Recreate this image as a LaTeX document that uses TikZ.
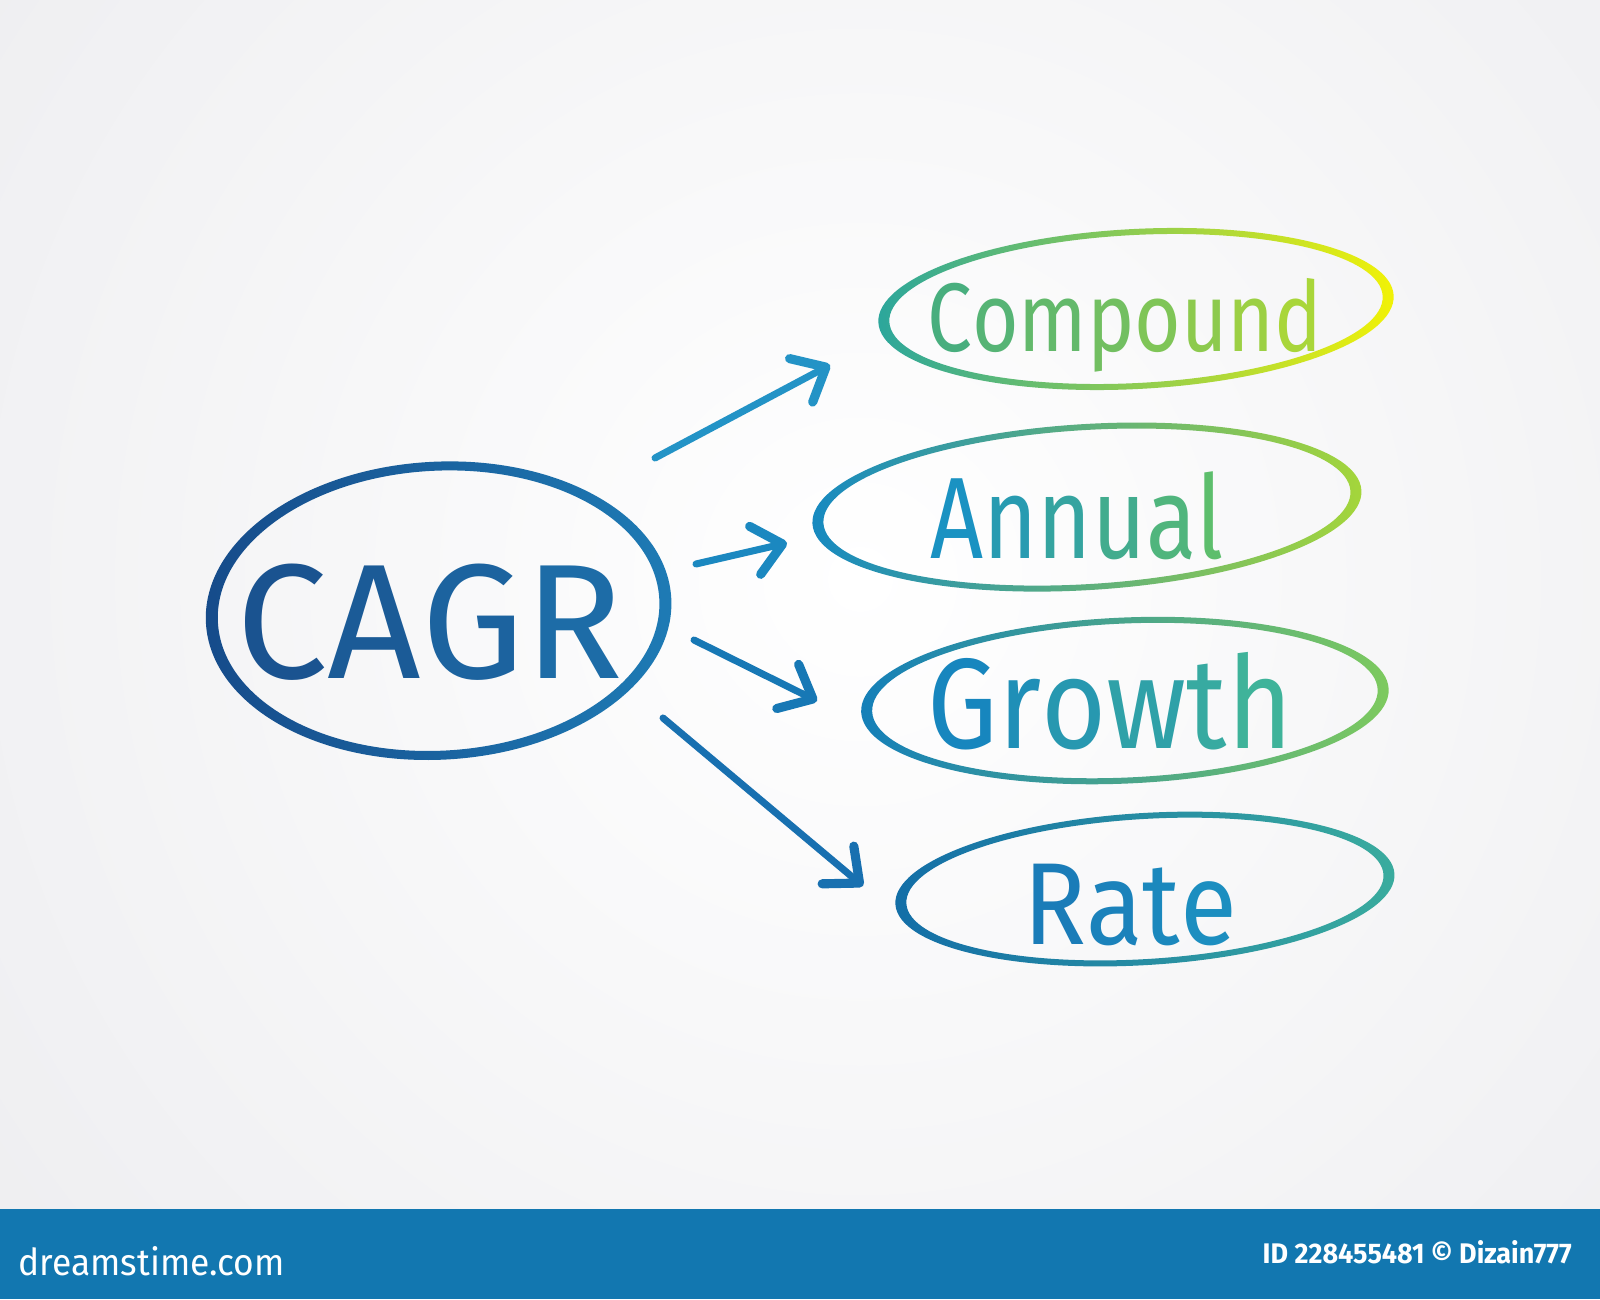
\documentclass[tikz,border=0pt]{standalone}
\usepackage{fontspec}
\setmainfont{Fira Sans}
\usepackage{graphicx}
\usetikzlibrary{arrows.meta}
\definecolor{bgedge}{HTML}{E4E4E8}
\definecolor{barblue}{HTML}{1277B0}
\definecolor{arrA}{HTML}{2393C6}
\definecolor{arrB}{HTML}{1B88C0}
\definecolor{arrC}{HTML}{1778B5}
\definecolor{arrD}{HTML}{1870B0}
% text gradients
\definecolor{cgA}{HTML}{1A5390}\definecolor{cgB}{HTML}{1D6CA7}
\definecolor{coA}{HTML}{48AE7E}\definecolor{coB}{HTML}{A9D63A}
\definecolor{anA}{HTML}{1A92C2}\definecolor{anB}{HTML}{5DBE6C}
\definecolor{grA}{HTML}{1786BE}\definecolor{grB}{HTML}{3FB39A}
\definecolor{raA}{HTML}{1A7CB8}\definecolor{raB}{HTML}{1C8EC0}
% ring colours
\definecolor{rcgL}{HTML}{164B8A}\definecolor{rcgR}{HTML}{1E7BB5}
\definecolor{rcoL}{HTML}{2BA69C}\definecolor{rcoM}{HTML}{8ACB4C}\definecolor{rcoR}{HTML}{F2F206}
\definecolor{ranL}{HTML}{1689C1}\definecolor{ranM}{HTML}{3EAF9E}\definecolor{ranR}{HTML}{A5D63A}
\definecolor{rgrL}{HTML}{147FB9}\definecolor{rgrM}{HTML}{26A0B0}\definecolor{rgrR}{HTML}{7ECA5E}
\definecolor{rraL}{HTML}{136EA7}\definecolor{rraM}{HTML}{1984BC}\definecolor{rraR}{HTML}{3AAC9E}
\tikzset{
  arr/.style={line width=2pt, line cap=round, line join=round,
    -{Straight Barb[length=8pt, width=14pt, line width=2.6pt, round]}},
  word/.style={anchor=base, inner sep=0pt},
}
\newcommand{\gc}[3]{\textcolor{#1!#2}{#3}}
\begin{document}
\begin{tikzpicture}
\useasboundingbox (0,0) rectangle (16,12.99);
% background
\begin{scope}
  \clip (0,0.9) rectangle (16,12.99);
  \shade[inner color=white, outer color=bgedge] (8.6,7.2) circle (17.5);
\end{scope}
\fill[barblue] (0,0) rectangle (16,0.9);

% ellipse centres
\coordinate (ecagr) at (4.386,6.883);
\coordinate (ecomp) at (11.36,9.90);
\coordinate (eannu) at (10.87,7.92);
\coordinate (egrow) at (11.25,5.985);
\coordinate (erate) at (11.45,4.10);

% rings
\shade[even odd rule, left color=rcgL, right color=rcgR, rotate around={3:(ecagr)}]
  (ecagr) ellipse [x radius=2.33, y radius=1.49]
  (ecagr) ellipse [x radius=2.21, y radius=1.40];
\shade[even odd rule, left color=rcoL, middle color=rcoM, right color=rcoR, rotate around={3:(ecomp)}]
  (ecomp) ellipse [x radius=2.58, y radius=0.80]
  (ecomp) ellipse [x radius=2.47, y radius=0.74];
\shade[even odd rule, left color=ranL, middle color=ranM, right color=ranR, rotate around={3.5:(eannu)}]
  (eannu) ellipse [x radius=2.75, y radius=0.83]
  (eannu) ellipse [x radius=2.64, y radius=0.77];
\shade[even odd rule, left color=rgrL, middle color=rgrM, right color=rgrR, rotate around={2.5:(egrow)}]
  (egrow) ellipse [x radius=2.64, y radius=0.83]
  (egrow) ellipse [x radius=2.53, y radius=0.77];
\shade[even odd rule, left color=rraL, middle color=rraM, right color=rraR, rotate around={3.5:(erate)}]
  (erate) ellipse [x radius=2.50, y radius=0.76]
  (erate) ellipse [x radius=2.39, y radius=0.70];

% words
\node[word] (tcagr) at (4.30,6.20) {\resizebox{3.87cm}{!}{\gc{cgB}{0!cgA}{C}\gc{cgB}{33!cgA}{A}\gc{cgB}{66!cgA}{G}\gc{cgB}{100!cgA}{R}}};
\node[word] (tcomp) at (11.25,9.47) {\scalebox{1}[1.22]{\resizebox{3.95cm}{!}{\gc{coB}{0!coA}{C}\gc{coB}{14!coA}{o}\gc{coB}{28!coA}{m}\gc{coB}{43!coA}{p}\gc{coB}{57!coA}{o}\gc{coB}{71!coA}{u}\gc{coB}{86!coA}{n}\gc{coB}{100!coA}{d}}}};
\node[word] (tannu) at (10.77,7.40) {\scalebox{1}[1.25]{\resizebox{2.93cm}{!}{\gc{anB}{0!anA}{A}\gc{anB}{20!anA}{n}\gc{anB}{40!anA}{n}\gc{anB}{60!anA}{u}\gc{anB}{80!anA}{a}\gc{anB}{100!anA}{l}}}};
\node[word] (tgrow) at (11.10,5.50) {\scalebox{1}[1.15]{\resizebox{3.65cm}{!}{\gc{grB}{0!grA}{G}\gc{grB}{20!grA}{r}\gc{grB}{40!grA}{o}\gc{grB}{60!grA}{w}\gc{grB}{80!grA}{t}\gc{grB}{100!grA}{h}}}};
\node[word] (trate) at (11.30,3.55) {\scalebox{1}[1.12]{\resizebox{2.14cm}{!}{\gc{raB}{0!raA}{R}\gc{raB}{33!raA}{a}\gc{raB}{66!raA}{t}\gc{raB}{100!raA}{e}}}};

% arrows
\coordinate (a1s) at (6.55,8.41); \coordinate (a1e) at (8.30,9.34);
\coordinate (a2s) at (6.96,7.35); \coordinate (a2e) at (7.87,7.56);
\coordinate (a3s) at (6.94,6.59); \coordinate (a3e) at (8.17,5.98);
\coordinate (a4s) at (6.63,5.81); \coordinate (a4e) at (8.63,4.13);
\draw[arr, arrA] (a1s) -- (a1e);
\draw[arr, arrB] (a2s) -- (a2e);
\draw[arr, arrC] (a3s) -- (a3e);
\draw[arr, arrD] (a4s) -- (a4e);

% footer
\node[anchor=base west, inner sep=0pt, text=white] (brand) at (0.18,0.235) {\resizebox{2.66cm}{0.29cm}{dreamstime.com}};
\node[anchor=base west, inner sep=0pt, text=white] (imgid) at (12.62,0.36) {\resizebox{3.09cm}{0.23cm}{\bfseries ID 228455481 © Dizain777}};
\end{tikzpicture}
\end{document}
